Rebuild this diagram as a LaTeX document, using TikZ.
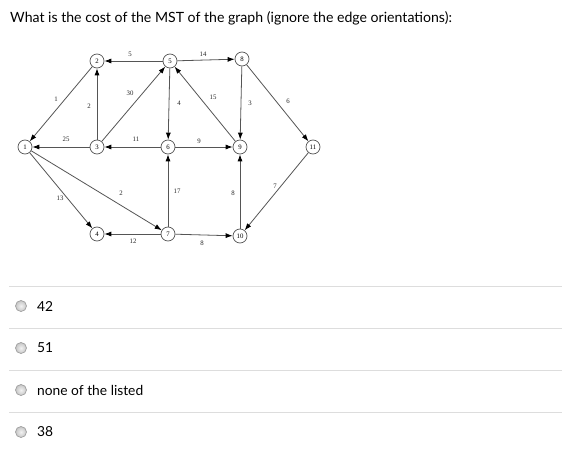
\documentclass[tikz,border=0pt]{standalone}
\usepackage{fontspec}
\setmainfont{Lato}
\newfontfamily\graphfont{Liberation Serif}
\usetikzlibrary{arrows.meta}
\definecolor{edgecol}{HTML}{555555}
\definecolor{sepcol}{HTML}{DDDDDD}
\tikzset{
  vtx/.style={circle, draw=edgecol, line width=0.7pt, minimum size=14pt, inner sep=0pt, fill=white, font=\graphfont\fontsize{6.8}{7}\selectfont},
  edge/.style={draw=edgecol, line width=0.8pt, -{Latex[length=7pt,width=5pt,color=black]}},
  wlab/.style={font=\graphfont\fontsize{6.8}{7}\selectfont, inner sep=0pt, text=black!85},
  radio/.style={circle, draw=gray!75, line width=0.7pt, minimum size=11pt, inner sep=0pt, inner color=gray!10, outer color=gray!45},
  opt/.style={anchor=west, font=\fontsize{13.8}{15}\selectfont, inner sep=0pt},
  sep/.style={draw=sepcol, line width=1pt}
}
\begin{document}
\begin{tikzpicture}[x=1pt,y=-1pt]
\useasboundingbox[fill=white] (0,0) rectangle (562,452);
% title
\node[anchor=west, inner sep=0pt, font=\fontsize{14.1}{16}\selectfont] (title) at (10,18) {What is the cost of the MST of the graph (ignore the edge orientations):};
% vertices
\node[vtx] (n1) at (25,147) {1};
\node[vtx] (n2) at (97,61) {2};
\node[vtx] (n3) at (97,147) {3};
\node[vtx] (n4) at (97,234) {4};
\node[vtx] (n5) at (170,61) {5};
\node[vtx] (n6) at (168,147) {6};
\node[vtx] (n7) at (168,234) {7};
\node[vtx] (n8) at (242,59) {8};
\node[vtx] (n9) at (240,147) {9};
\node[vtx] (n10) at (240,236) {10};
\node[vtx] (n11) at (313,147) {11};
% edges
\draw[edge] (n5) -- (n2);
\draw[edge] (n2) -- (n1);
\draw[edge] (n3) -- (n2);
\draw[edge] (n3) -- (n5);
\draw[edge] (n5) -- (n6);
\draw[edge] (n3) -- (n1);
\draw[edge] (n6) -- (n3);
\draw[edge] (n5) -- (n8);
\draw[edge] (n9) -- (n5);
\draw[edge] (n8) -- (n9);
\draw[edge] (n8) -- (n11);
\draw[edge] (n6) -- (n9);
\draw[edge] (n1) -- (n4);
\draw[edge] (n1) -- (n7);
\draw[edge] (n7) -- (n6);
\draw[edge] (n7) -- (n4);
\draw[edge] (n7) -- (n10);
\draw[edge] (n10) -- (n9);
\draw[edge] (n11) -- (n10);
% weights
\node[wlab] (w52) at (130,54) {5};
\node[wlab] (w21) at (56,99) {1};
\node[wlab] (w32) at (89,106) {2};
\node[wlab] (w35) at (130,93) {30};
\node[wlab] (w56) at (179,103) {4};
\node[wlab] (w31) at (66,139) {25};
\node[wlab] (w63) at (136,139) {11};
\node[wlab] (w58) at (203,54) {14};
\node[wlab] (w95) at (213,97) {15};
\node[wlab] (w89) at (250,103) {3};
\node[wlab] (w811) at (288,101) {6};
\node[wlab] (w69) at (199,141) {9};
\node[wlab] (w76) at (177,191) {17};
\node[wlab] (w109) at (233,193) {8};
\node[wlab] (w1110) at (275,186) {7};
\node[wlab] (w710) at (202,243) {8};
\node[wlab] (w74) at (133,241) {12};
\node[wlab] (w14) at (60,198) {13};
\node[wlab] (w17) at (121,193) {2};
% separators
\draw[sep] (9,286) -- (562,286);
\draw[sep] (9,328) -- (562,328);
\draw[sep] (9,370) -- (562,370);
\draw[sep] (9,412) -- (562,412);
% options
\node[radio] (r1) at (21,306) {};
\node[opt] (o1) at (37,306) {42};
\node[radio] (r2) at (21,348) {};
\node[opt] (o2) at (37,348) {51};
\node[radio] (r3) at (21,390) {};
\node[opt] (o3) at (37,390) {none of the listed};
\node[radio] (r4) at (21,432) {};
\node[opt] (o4) at (37,432) {38};
\end{tikzpicture}
\end{document}
